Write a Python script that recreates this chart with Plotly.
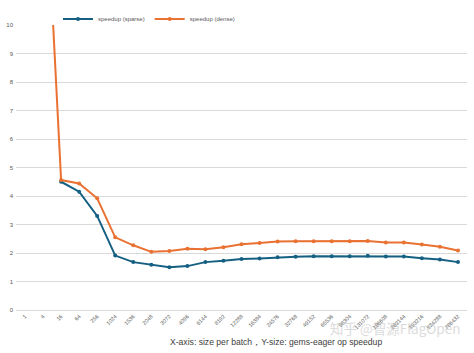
import plotly.graph_objects as go

categories = ["1", "4", "16", "64", "256", "1024", "1536", "2048", "3072", "4096",
              "6144", "8192", "12288", "16384", "24576", "32768", "49152", "65536",
              "98304", "131072", "196608", "262144", "393216", "524288", "786432"]

sparse = [None, None, 4.50, 4.15, 3.30, 1.91, 1.68, 1.59, 1.50, 1.54,
          1.68, 1.73, 1.79, 1.81, 1.85, 1.87, 1.89, 1.89,
          1.89, 1.90, 1.88, 1.88, 1.82, 1.77, 1.68]

dense = [None, 16.9, 4.56, 4.44, 3.92, 2.55, 2.27, 2.04, 2.07, 2.15,
         2.13, 2.20, 2.31, 2.35, 2.40, 2.41, 2.41, 2.41,
         2.41, 2.42, 2.37, 2.37, 2.30, 2.22, 2.09]

y_ticks = list(range(0, 11))

BLUE = "#156082"
ORANGE = "#E97132"
W, H = 474, 353
ML, MR, MT, MB = 16, 7, 25, 43

fig = go.Figure()
fig.add_trace(go.Scatter(x=categories, y=sparse, name="speedup (sparse)", mode="lines+markers",
                         line=dict(color=BLUE, width=2), marker=dict(color=BLUE, size=4)))
fig.add_trace(go.Scatter(x=categories, y=dense, name="speedup (dense)", mode="lines+markers",
                         line=dict(color=ORANGE, width=2), marker=dict(color=ORANGE, size=4)))

plot_w = W - ML - MR
plot_h = H - MT - MB
fig.update_layout(
    width=W, height=H,
    margin=dict(l=ML, r=MR, t=MT, b=MB, autoexpand=False),
    paper_bgcolor="white", plot_bgcolor="white",
    font=dict(family="Liberation Sans, Arial, sans-serif", color="#595959"),
    showlegend=True,
    legend=dict(orientation="h", x=(58 - ML) / plot_w, xanchor="left",
                y=1 + (MT - 19) / plot_h, yanchor="middle",
                font=dict(size=6, color="#595959"), itemwidth=30, tracegroupgap=0,
                bgcolor="rgba(0,0,0,0)"),
    xaxis=dict(type="category", range=[-0.5, 24.5], showgrid=False, zeroline=False,
               showline=True, linecolor="#d9d9d9", linewidth=1,
               tickangle=-45, tickfont=dict(size=5.5, color="#595959"), ticks=""),
    yaxis=dict(range=[0, 10], tickvals=y_ticks, showgrid=True, gridcolor="#d9d9d9", gridwidth=1,
               zeroline=False, showline=False, ticks="",
               tickfont=dict(size=6, color="#595959"), ticklabelstandoff=2),
)

fig.add_annotation(text="X-axis: size per batch，Y-size: gems-eager op speedup",
                   xref="paper", yref="paper", x=(276 - ML) / plot_w, y=-(342 - (H - MB)) / plot_h,
                   xanchor="center", yanchor="middle", showarrow=False,
                   font=dict(size=8.6, color="#404040", family="Liberation Sans, Arial, sans-serif"))

fig.add_annotation(text="知乎 @智源FlagOpen",
                   xref="paper", yref="paper", x=(462 - ML) / plot_w, y=-(328 - (H - MB)) / plot_h,
                   xanchor="right", yanchor="middle", showarrow=False, opacity=0.35,
                   font=dict(size=13.5, color="#9a9a9a", family="Noto Sans CJK SC, sans-serif"))

fig.write_html("out.html")
